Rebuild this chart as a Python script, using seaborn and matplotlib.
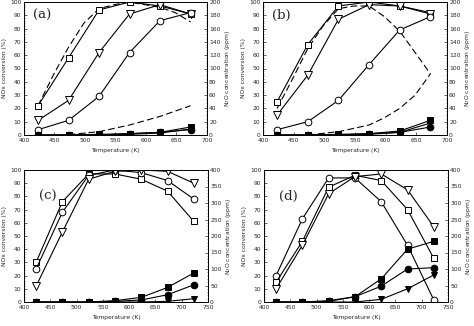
import matplotlib
matplotlib.use("Agg")
import matplotlib.pyplot as plt
import seaborn as sns
import numpy as np
from matplotlib.ticker import MultipleLocator

sns.set_theme(style="ticks")
plt.rcParams['font.family'] = ['DejaVu Sans']

# ---------------- data ----------------
T6 = [423, 473, 523, 573, 623, 673]
T7 = [423, 473, 523, 573, 623, 673, 723]

# panel (a)
a_sq = [22, 58, 94, 100, 97, 91]
a_tri = [11, 26, 62, 91, 98, 91]
a_cir = [4, 11, 29, 62, 86, 92]
a_fsq = [0, 0, 1, 2, 4, 12]
a_fcir = [0, 0, 0, 2, 4, 8]
a_ftri = [0, 0, 0, 1, 3, 9]
a_dash_T = [423, 448, 473, 498, 523, 548, 573, 598, 623, 648, 673]
a_dash_hi = [22, 45, 66, 84, 95, 98, 100, 98, 96, 92, 85]
a_dash_lo_T = [473, 523, 573, 623, 648, 673]
a_dash_lo = [0.3, 2.5, 7.5, 14, 18, 22]

# panel (b)
b_sq = [25, 68, 97, 100, 97, 92]
b_tri = [15, 45, 87, 98, 97, 91]
b_cir = [4, 10, 26, 53, 79, 89]
b_fsq = [0, 0, 1, 2, 6, 22]
b_fcir = [0, 0, 0, 2, 4, 12]
b_ftri = [0, 0, 0, 1, 4, 18]
b_dash_T = [423, 448, 473, 498, 523, 548, 573, 598, 623, 648, 673]
b_dash_hi = [20, 42, 65, 82, 95, 97, 97, 89, 78, 62, 46]
b_dash_lo_T = [473, 523, 573, 598, 623, 648, 673]
b_dash_lo = [0, 2.5, 7.5, 13, 20, 30, 46]

# panel (c)
c_sq = [30, 76, 97, 97, 93, 84, 61]
c_cir = [25, 68, 96, 100, 98, 92, 78]
c_tri = [12, 53, 93, 99, 100, 99, 90]
c_fsq = [0, 0, 0, 4, 14, 44, 88]
c_fcir = [0, 0, 0, 2, 6, 22, 52]
c_ftri = [0, 0, 0, 0, 0, 2, 10]

# panel (d)
d_cir = [20, 63, 94, 94, 76, 43, 1.5]
d_sq = [15, 46, 87, 96, 92, 70, 33]
d_tri = [10, 43, 82, 95, 97, 85, 57]
d_fsq = [0, 0, 4, 16, 70, 160, 184]
d_fcir = [0, 0, 2, 16, 48, 100, 104]
d_ftri = [0, 0, 0, 0, 8, 40, 82]

FS = 4.3
W, H = 474, 326
fig = plt.figure(figsize=(W / 100, H / 100), dpi=100)


def add_ax(l, r, t, b):
    return fig.add_axes([l / W, 1 - b / H, (r - l) / W, (b - t) / H])


def series(ax, x, y, marker, filled, ms=4.8):
    sns.lineplot(x=x, y=y, ax=ax, color='black', linewidth=0.8,
                 marker=marker, markersize=ms,
                 markerfacecolor='black' if filled else 'white',
                 markeredgecolor='black', markeredgewidth=0.7,
                 estimator=None, sort=False)


def style(ax, ax2, xmax, ymax2, step2, letter, lpos):
    ax.set_xlim(400, xmax)
    ax.set_ylim(0, 100)
    ax2.set_ylim(0, ymax2)
    ax.xaxis.set_major_locator(MultipleLocator(50))
    ax.yaxis.set_major_locator(MultipleLocator(10))
    ax.yaxis.set_minor_locator(MultipleLocator(2))
    ax2.yaxis.set_major_locator(MultipleLocator(step2))
    ax2.yaxis.set_minor_locator(MultipleLocator(step2 / 5))
    for a in (ax, ax2):
        a.tick_params(axis='both', which='major', labelsize=FS, length=2,
                      width=0.5, direction='in', pad=2)
        a.tick_params(axis='both', which='minor', length=1, width=0.4,
                      direction='in')
        for s in a.spines.values():
            s.set_linewidth(0.6)
            s.set_color('black')
    ax2.tick_params(axis='y', which='major', pad=1.5)
    ax.set_xlabel('Temperature (K)', fontsize=FS, labelpad=4)
    ax.set_ylabel('NOx conversion (%)', fontsize=FS, labelpad=2)
    ax2.set_ylabel('N$_2$O concentration (ppm)', fontsize=FS, labelpad=1.5)
    ax.text(lpos[0], lpos[1], letter, transform=ax.transAxes,
            fontsize=9.5, family='DejaVu Serif', va='center', ha='left')


# (a)
ax = add_ax(24, 207, 2, 135)
ax2 = ax.twinx()
sns.lineplot(x=a_dash_T, y=a_dash_hi, ax=ax, color='black', linewidth=0.8,
             linestyle=(0, (6, 3)), estimator=None)
sns.lineplot(x=a_dash_lo_T, y=a_dash_lo, ax=ax, color='black', linewidth=0.8,
             linestyle=(0, (6, 3)), estimator=None)
series(ax, T6, a_sq, 's', False)
series(ax, T6, a_tri, 'v', False, 5.4)
series(ax, T6, a_cir, 'o', False)
series(ax2, T6, a_fsq, 's', True)
series(ax2, T6, a_ftri, 'v', True)
series(ax2, T6, a_fcir, 'o', True)
style(ax, ax2, 700, 200, 20, '(a)', (0.05, 0.9))

# (b)
ax = add_ax(263, 447, 2, 135)
ax2 = ax.twinx()
sns.lineplot(x=b_dash_T, y=b_dash_hi, ax=ax, color='black', linewidth=0.8,
             linestyle=(0, (6, 3)), estimator=None)
sns.lineplot(x=b_dash_lo_T, y=b_dash_lo, ax=ax, color='black', linewidth=0.8,
             linestyle=(0, (6, 3)), estimator=None)
series(ax, T6, b_sq, 's', False)
series(ax, T6, b_tri, 'v', False, 5.4)
series(ax, T6, b_cir, 'o', False)
series(ax2, T6, b_fsq, 's', True)
series(ax2, T6, b_ftri, 'v', True)
series(ax2, T6, b_fcir, 'o', True)
style(ax, ax2, 700, 200, 20, '(b)', (0.05, 0.9))

# (c)
ax = add_ax(24, 208, 170, 302)
ax2 = ax.twinx()
series(ax, T7, c_sq, 's', False)
series(ax, T7, c_cir, 'o', False)
series(ax, T7, c_tri, 'v', False, 5.4)
series(ax2, T7, c_fsq, 's', True)
series(ax2, T7, c_fcir, 'o', True)
series(ax2, T7, c_ftri, 'v', True)
style(ax, ax2, 750, 400, 50, '(c)', (0.08, 0.8))

# (d)
ax = add_ax(264, 448, 170, 302)
ax2 = ax.twinx()
series(ax, T7, d_cir, 'o', False)
series(ax, T7, d_sq, 's', False)
series(ax, T7, d_tri, 'v', False, 5.4)
series(ax2, T7, d_fsq, 's', True)
series(ax2, T7, d_fcir, 'o', True)
series(ax2, T7, d_ftri, 'v', True)
style(ax, ax2, 750, 400, 50, '(d)', (0.08, 0.8))

fig.savefig('out.png', dpi=100)
